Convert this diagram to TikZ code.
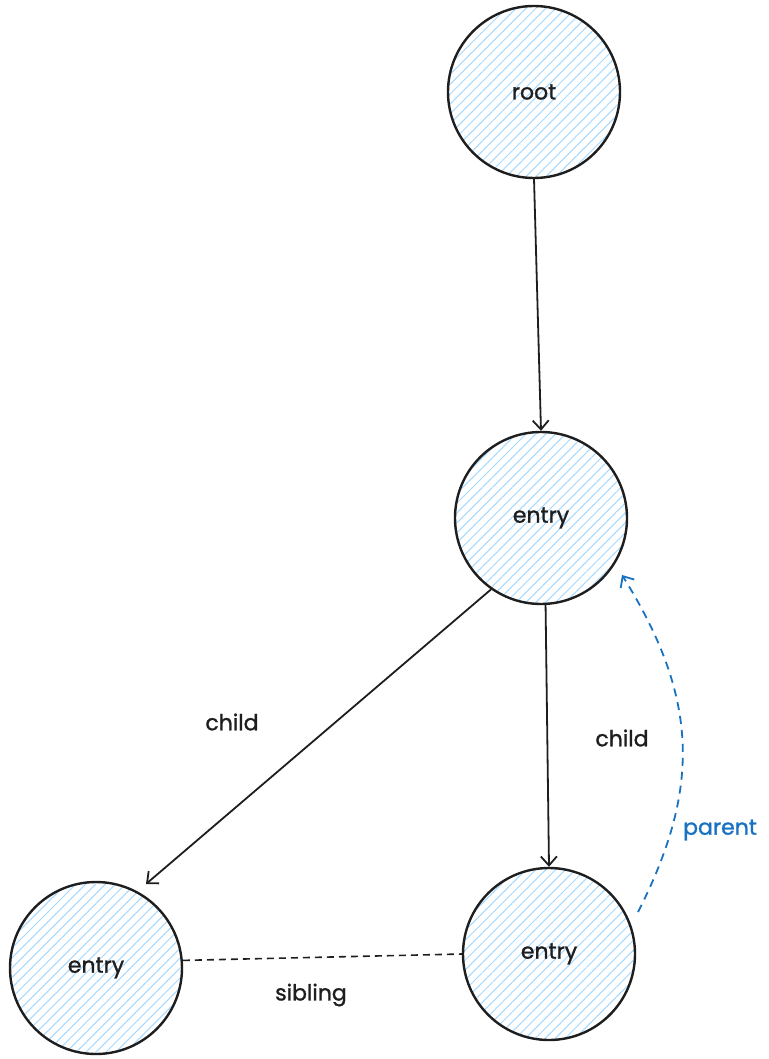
\documentclass[tikz,border=0pt]{standalone}
\usepackage{fontspec}
\setmainfont{Poppins}[FakeBold=1.2]
\usetikzlibrary{arrows.meta,patterns.meta}
\definecolor{hatch}{HTML}{A5D8FF}
\definecolor{inkc}{HTML}{1E1E1E}
\definecolor{bluec}{HTML}{1971C2}
\tikzset{
  entrynode/.style={circle, draw=inkc, line width=2.4pt, minimum size=172pt, inner sep=0pt,
    pattern={Lines[angle=45,distance=7pt,line width=1pt]}, pattern color=hatch,
    font=\fontsize{22}{26}\selectfont, text=inkc},
  conn/.style={draw=inkc, line width=1.8pt, -{Straight Barb[length=9pt,width=16pt,line width=1.8pt]}},
  lbl/.style={font=\fontsize{22}{26}\selectfont, text=inkc},
  dashconn/.style={draw=inkc, line width=1.6pt, dash pattern=on 7pt off 5pt},
  parentconn/.style={draw=bluec, line width=1.8pt, dash pattern=on 8pt off 6pt, -{Straight Barb[length=9pt,width=16pt,line width=1.8pt]}}
}
\begin{document}
\begin{tikzpicture}[x=1pt,y=-1pt]
\useasboundingbox (0,0) rectangle (768,1059);
\node[entrynode] (root) at (534,92) {root};
\node[entrynode] (e1) at (541,518) {entry};
\node[entrynode] (e2) at (96,968) {entry};
\node[entrynode] (e3) at (549,954) {entry};
\coordinate (pe) at (622,575);
\draw[conn] (root.south) -- (e1.north);
\draw[conn] (e1.-135+10) -- (146,884);
\draw[conn] (e1.-90+3) -- (e3.north);
\draw[dashconn] (e2.5) -- (e3.west);
\draw[parentconn] (638,912) .. controls (700,790) and (700,700) .. (pe);
\node[lbl] (l1) at (232,722) {child};
\node[lbl] (l2) at (622,738) {child};
\node[lbl, text=bluec] (l3) at (720,830) {parent};
\node[lbl] (l4) at (311,995) {sibling};
\end{tikzpicture}
\end{document}
